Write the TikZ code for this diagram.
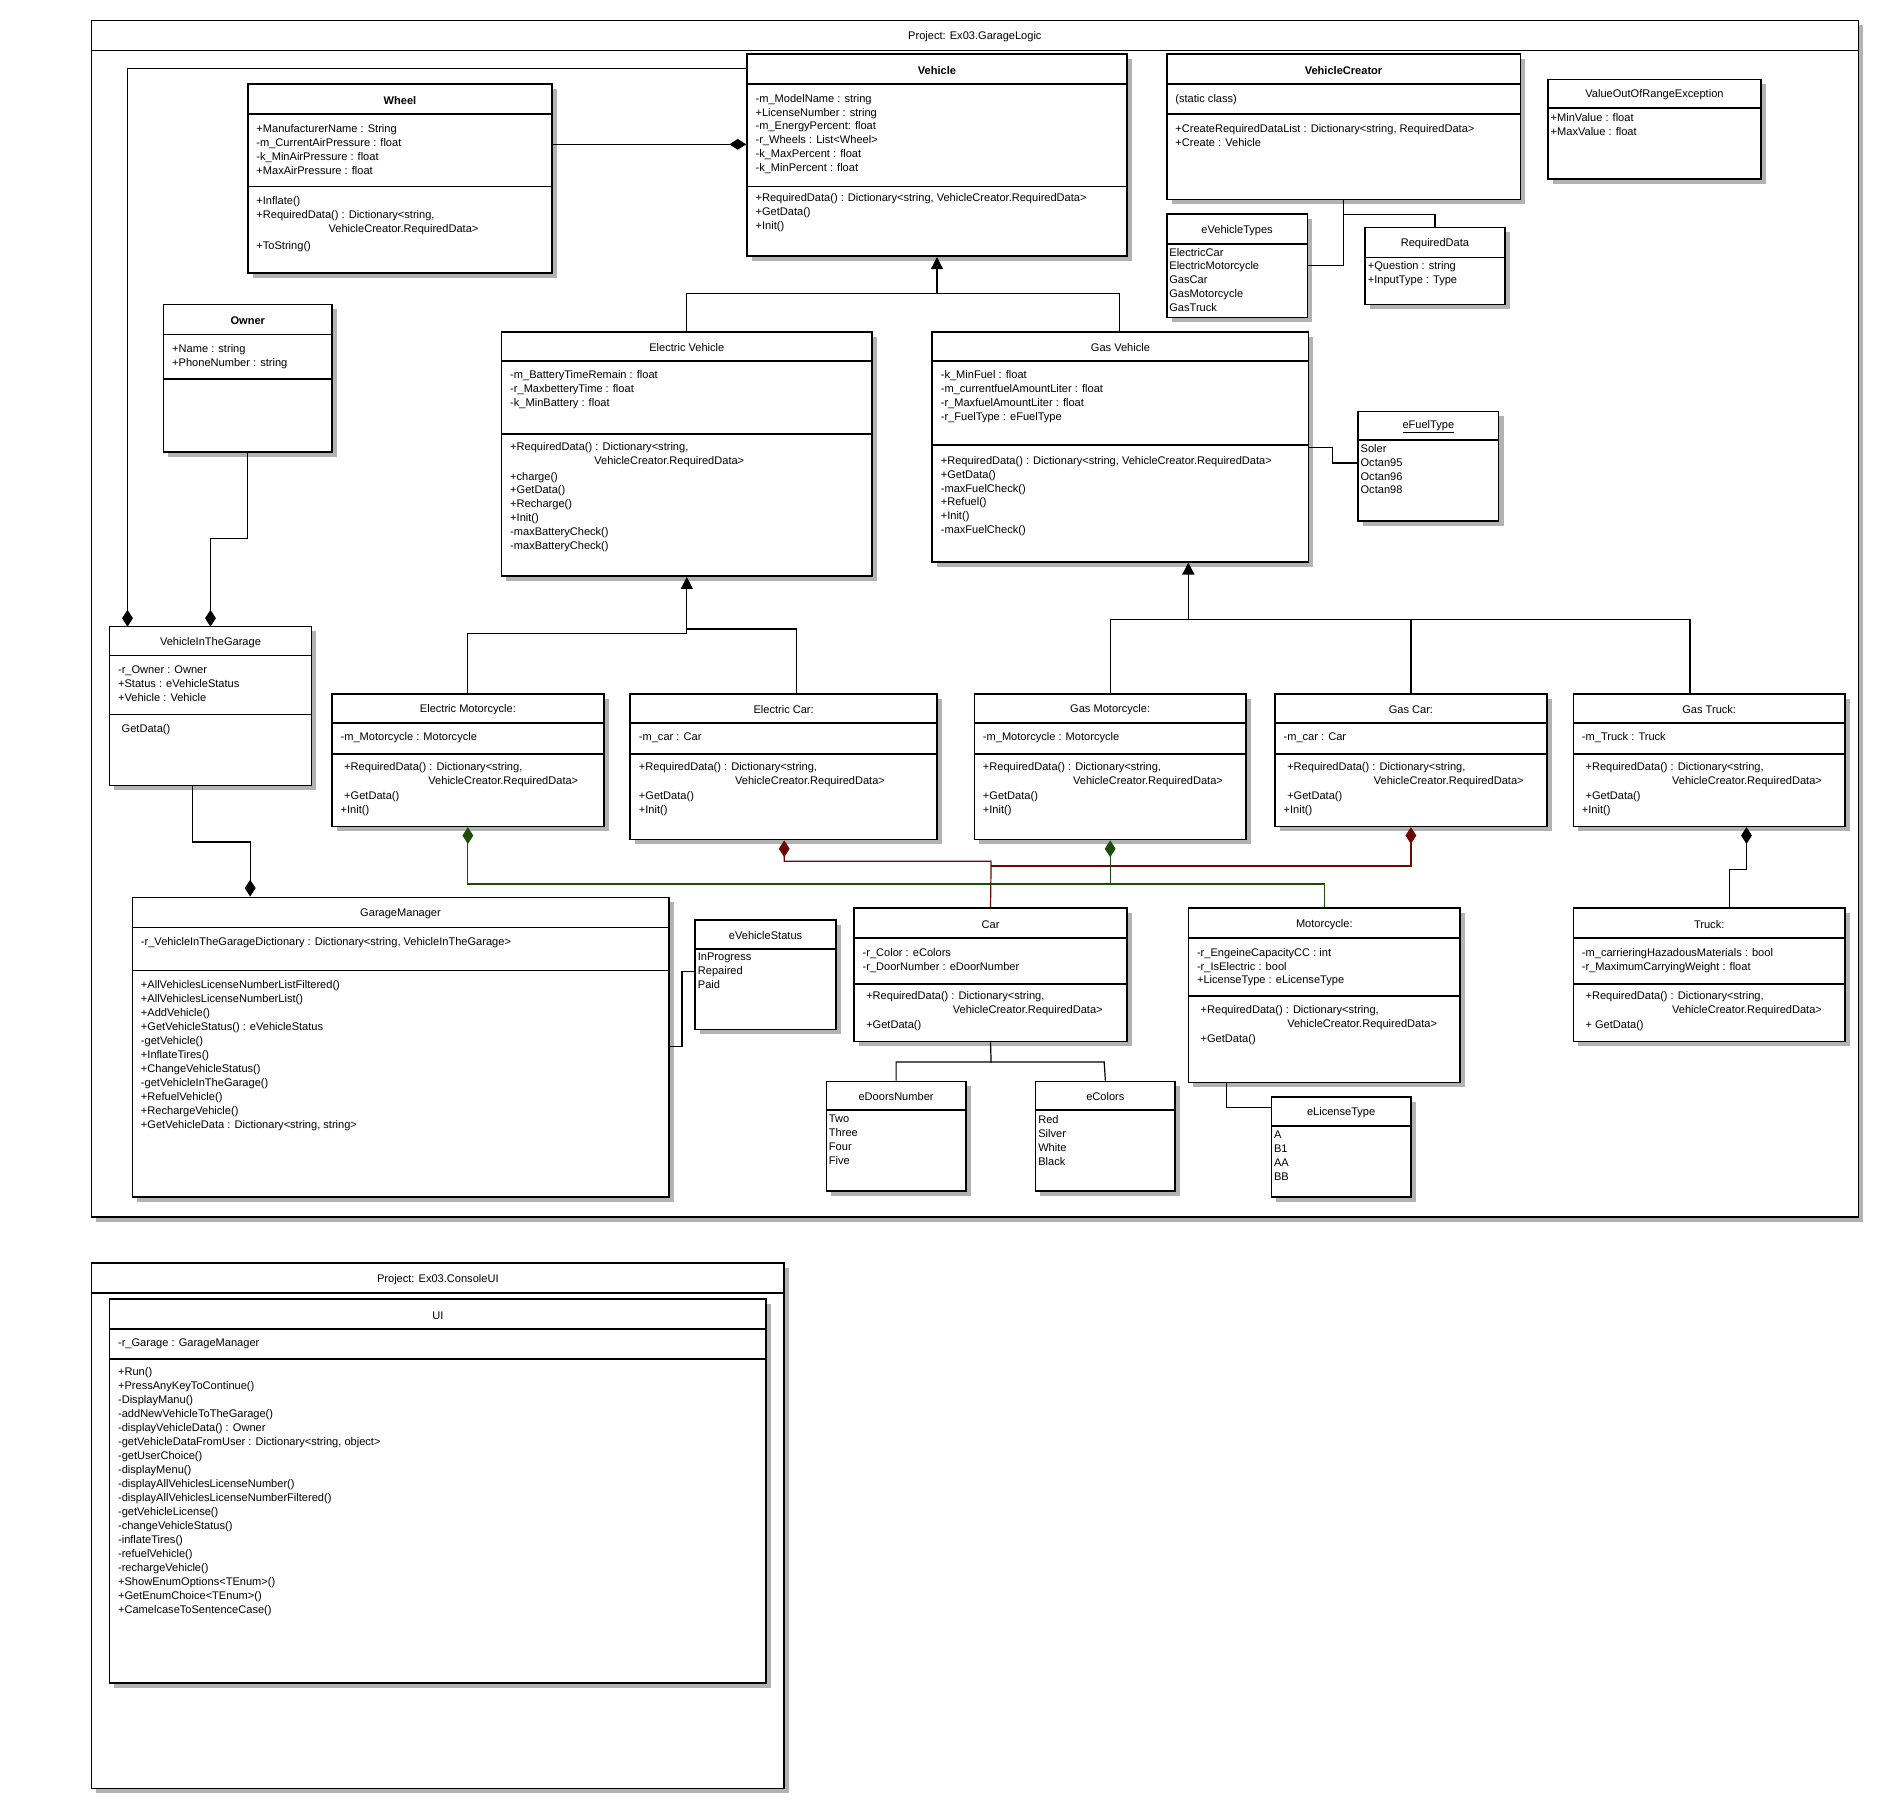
\documentclass[tikz,border=0pt]{standalone}
\usepackage{fontspec}
\setmainfont{Liberation Sans}
\usetikzlibrary{fit,arrows.meta}
\tikzset{
 tx/.style={anchor=north west,align=left,inner sep=0pt,font=\fontsize{9.2}{11.6}\selectfont},
 ttl/.style={inner sep=0pt,font=\fontsize{9.2}{11.6}\selectfont},
 bx/.style={draw,line width=1.3pt,fill=white,inner sep=0pt},
 con/.style={line width=1pt},
 comp/.style={con,-{Diamond[length=14pt,width=9pt]}},
 inh/.style={con,-{Triangle[length=10pt,width=10pt]}},
}
\definecolor{dred}{HTML}{6B0A00}
\definecolor{dgreen}{HTML}{1E4D0B}
\newcommand\ucls[8]{%
 \fill[black!30] (#2+4,#3+4) rectangle (#4+4,#5+4);
 \node[bx,fit={(#2,#3)(#4,#5)}] (#1) {};
 \node[ttl] at ({(#2+#4)/2},{(#3+#7)/2+1}) {#6};
 \draw[line width=1.3pt] (#2,#7) -- (#4,#7);
 \ifnum#8>0 \draw[line width=1.3pt] (#2,#8) -- (#4,#8);\fi
}
\begin{document}
\begin{tikzpicture}[x=1pt,y=-1pt]
\useasboundingbox (0,0) rectangle (1568,1502.4);
% frames
\ucls{glogic}{76}{17}{1545}{1012}{Project: Ex03.GarageLogic}{42}{-1}
\ucls{cui}{76}{1050}{652}{1487}{Project: Ex03.ConsoleUI}{1075}{-1}

\ucls{vehicle}{621}{45}{937}{213}{\textbf{Vehicle}}{70}{155}
\node[tx] at (628,78) {-m\_ModelName : string\\+LicenseNumber : string\\-m\_EnergyPercent: float\\-r\_Wheels : List<Wheel>\\-k\_MaxPercent : float\\-k\_MinPercent : float};
\node[tx] at (628,161) {+RequiredData() : Dictionary<string, VehicleCreator.RequiredData>\\+GetData()\\+Init()};

\ucls{wheel}{206}{70}{459}{227}{\textbf{Wheel}}{95}{155}
\node[tx] at (213,103) {+ManufacturerName : String\\-m\_CurrentAirPressure : float\\-k\_MinAirPressure : float\\+MaxAirPressure : float};
\node[tx] at (213,163) {+Inflate()\\+RequiredData() : Dictionary<string,\\\hspace*{60pt}VehicleCreator.RequiredData>\\[3pt]+ToString()};

\ucls{vcreator}{970}{45}{1264}{166}{\textbf{VehicleCreator}}{70}{95}
\node[tx] at (977,78) {(static class)};
\node[tx] at (977,103) {+CreateRequiredDataList : Dictionary<string, RequiredData>\\+Create : Vehicle};

\ucls{voor}{1287}{66}{1464}{149}{ValueOutOfRangeException}{90}{-1}
\node[tx] at (1289,94) {+MinValue : float\\+MaxValue : float};

\ucls{evtypes}{970}{178}{1087}{264}{eVehicleTypes}{203}{-1}
\node[tx] at (972,206) {ElectricCar\\ElectricMotorcycle\\GasCar\\GasMotorcycle\\GasTruck};

\ucls{reqdata}{1135}{189}{1251}{253}{RequiredData}{214}{-1}
\node[tx] at (1137,217) {+Question : string\\+InputType : Type};

\ucls{owner}{136}{253}{276}{376}{\textbf{Owner}}{278}{315}
\node[tx] at (143,286) {+Name : string\\+PhoneNumber : string};

\ucls{ev}{417}{276}{725}{479}{Electric Vehicle}{300}{361}
\node[tx] at (424,308) {-m\_BatteryTimeRemain : float\\-r\_MaxbetteryTime : float\\-k\_MinBattery : float};
\node[tx] at (424,368) {+RequiredData() : Dictionary<string,\\\hspace*{70pt}VehicleCreator.RequiredData>\\[1pt]+charge()\\+GetData()\\+Recharge()\\+Init()\\-maxBatteryCheck()\\-maxBatteryCheck()};

\ucls{gv}{775}{276}{1088}{467}{Gas Vehicle}{300}{370}
\node[tx] at (782,308) {-k\_MinFuel : float\\-m\_currentfuelAmountLiter : float\\-r\_MaxfuelAmountLiter : float\\-r\_FuelType : eFuelType};
\node[tx] at (782,379) {+RequiredData() : Dictionary<string, VehicleCreator.RequiredData>\\+GetData()\\-maxFuelCheck()\\+Refuel()\\+Init()\\-maxFuelCheck()};

\ucls{efuel}{1129}{342}{1246}{433}{\underline{eFuelType}}{366}{-1}
\node[tx] at (1131,369) {Soler\\Octan95\\Octan96\\Octan98};

\ucls{vitg}{91}{521}{259}{653}{VehicleInTheGarage}{545}{594}
\node[tx] at (98,553) {-r\_Owner : Owner\\+Status : eVehicleStatus\\+Vehicle : Vehicle};
\node[tx] at (101,602) {GetData()};

\ucls{emc}{276}{577}{502}{687}{Electric Motorcycle:}{601}{627}
\node[tx] at (283,609) {-m\_Motorcycle : Motorcycle};
\node[tx] at (286,634) {+RequiredData() : Dictionary<string,\\\hspace*{70pt}VehicleCreator.RequiredData>\\[1pt]+GetData()\\\hspace*{-3pt}+Init()};

\ucls{ecar}{524}{577}{779}{698}{Electric Car:}{601}{627}
\node[tx] at (531,609) {-m\_car : Car};
\node[tx] at (531,634) {+RequiredData() : Dictionary<string,\\\hspace*{80pt}VehicleCreator.RequiredData>\\[1pt]+GetData()\\+Init()};

\ucls{gmc}{810}{577}{1036}{698}{Gas Motorcycle:}{601}{627}
\node[tx] at (817,609) {-m\_Motorcycle : Motorcycle};
\node[tx] at (817,634) {+RequiredData() : Dictionary<string,\\\hspace*{75pt}VehicleCreator.RequiredData>\\[1pt]+GetData()\\+Init()};

\ucls{gcar}{1060}{577}{1286}{687}{Gas Car:}{601}{627}
\node[tx] at (1067,609) {-m\_car : Car};
\node[tx] at (1070,634) {+RequiredData() : Dictionary<string,\\\hspace*{72pt}VehicleCreator.RequiredData>\\[1pt]+GetData()\\\hspace*{-3pt}+Init()};

\ucls{gtruck}{1308}{577}{1534}{687}{Gas Truck:}{601}{627}
\node[tx] at (1315,609) {-m\_Truck : Truck};
\node[tx] at (1318,634) {+RequiredData() : Dictionary<string,\\\hspace*{72pt}VehicleCreator.RequiredData>\\[1pt]+GetData()\\\hspace*{-3pt}+Init()};

\ucls{gm}{110}{746}{556}{995}{GarageManager}{771}{807}
\node[tx] at (117,779) {-r\_VehicleInTheGarageDictionary : Dictionary<string, VehicleInTheGarage>};
\node[tx] at (117,815) {+AllVehiclesLicenseNumberListFiltered()\\+AllVehiclesLicenseNumberList()\\+AddVehicle()\\+GetVehicleStatus() : eVehicleStatus\\-getVehicle()\\+InflateTires()\\+ChangeVehicleStatus()\\-getVehicleInTheGarage()\\+RefuelVehicle()\\+RechargeVehicle()\\+GetVehicleData : Dictionary<string, string>};

\ucls{evstatus}{578}{765}{695}{856}{eVehicleStatus}{789}{-1}
\node[tx] at (580,792) {InProgress\\Repaired\\Paid};

\ucls{car}{710}{755}{937}{866}{Car}{780}{818}
\node[tx] at (717,788) {-r\_Color : eColors\\-r\_DoorNumber : eDoorNumber};
\node[tx] at (720,824) {+RequiredData() : Dictionary<string,\\\hspace*{72pt}VehicleCreator.RequiredData>\\[1pt]+GetData()};

\ucls{moto}{988}{755}{1214}{900}{Motorcycle:}{780}{828}
\node[tx] at (995,788) {-r\_EngeineCapacityCC : int\\-r\_IsElectric : bool\\+LicenseType : eLicenseType};
\node[tx] at (998,836) {+RequiredData() : Dictionary<string,\\\hspace*{72pt}VehicleCreator.RequiredData>\\[1pt]+GetData()};

\ucls{truck}{1308}{755}{1534}{866}{Truck:}{780}{818}
\node[tx] at (1315,788) {-m\_carrieringHazadousMaterials : bool\\-r\_MaximumCarryingWeight : float};
\node[tx] at (1318,824) {+RequiredData() : Dictionary<string,\\\hspace*{72pt}VehicleCreator.RequiredData>\\[1pt]+ GetData()};

\ucls{edoors}{687}{899}{803}{990}{eDoorsNumber}{923}{-1}
\node[tx] at (689,927) {Two\\Three\\Four\\Five};
\ucls{ecolors}{861}{899}{977}{990}{eColors}{923}{-1}
\node[tx] at (863,927) {Red\\Silver\\White\\Black};
\ucls{elic}{1057}{912}{1173}{995}{eLicenseType}{936}{-1}
\node[tx] at (1059,940) {A\\B1\\AA\\BB};

\ucls{ui}{91}{1080}{637}{1399}{UI}{1105}{1130}
\node[tx] at (98,1113) {-r\_Garage : GarageManager};
\node[tx] at (98,1137) {+Run()\\+PressAnyKeyToContinue()\\-DisplayManu()\\-addNewVehicleToTheGarage()\\-displayVehicleData() : Owner\\-getVehicleDataFromUser : Dictionary<string, object>\\-getUserChoice()\\-displayMenu()\\-displayAllVehiclesLicenseNumber()\\-displayAllVehiclesLicenseNumberFiltered()\\-getVehicleLicense()\\-changeVehicleStatus()\\-inflateTires()\\-refuelVehicle()\\-rechargeVehicle()\\+ShowEnumOptions<TEnum>()\\+GetEnumChoice<TEnum>()\\+CamelcaseToSentenceCase()};

% connectors
\draw[comp] (wheel.east |- 0,120) -- (vehicle.west |- 0,120);
\draw[comp] (vehicle.west |- 0,57) -- (106,57) -- (106,521);
\draw[comp] (owner.south) -- (206,448) -- (175,448) -- (175,521);
\draw[con] (ev.north) -- (571,244) -- (931,244) -- (931,276);
\draw[inh] (779,244) -- (vehicle.south);
\draw[con] (vcreator.south) -- (1117,221) -- (evtypes.east |- 0,221);
\draw[con] (1117,178) -- (1193,178) -- (reqdata.north);
\draw[con] (gv.east |- 0,372) -- (1108,372) -- (1108,385) -- (efuel.west |- 0,385);
\draw[con] (emc.north) -- (389,527) -- (571,527);
\draw[con] (ecar.north -| 662,0) -- (662,523) -- (571,523);
\draw[inh] (571,527) -- (ev.south);
\draw[con] (gmc.north -| 923,0) -- (923,515) -- (1405,515) -- (gtruck.north -| 1405,0);
\draw[con] (gcar.north) -- (1173,515);
\draw[inh] (988,515) -- (gv.south -| 988,0);
\draw[comp] (vitg.south -| 160,0) -- (160,700) -- (208,700) -- (gm.north -| 208,0);
\draw[con] (gm.east |- 0,870) -- (567,870) -- (567,808) -- (evstatus.west |- 0,808);
\draw[comp,dred] (car.north) -- (824,716) -- (652,716) -- (ecar.south -| 652,0);
\draw[comp,dred] (824,720) -- (1173,720) -- (gcar.south);
\draw[comp,dgreen] (moto.north) -- (1101,735) -- (389,735) -- (emc.south);
\draw[comp,dgreen] (923,735) -- (gmc.south -| 923,0);
\draw[comp] (truck.north -| 1438,0) -- (1438,723) -- (1452,723) -- (gtruck.south -| 1452,0);
\draw[con] (car.south) -- (824,883) -- (745,883) -- (edoors.north);
\draw[con] (824,883) -- (918,883) -- (ecolors.north);
\draw[con] (moto.south -| 1020,0) -- (1020,921) -- (elic.west |- 0,921);
\end{tikzpicture}
\end{document}
